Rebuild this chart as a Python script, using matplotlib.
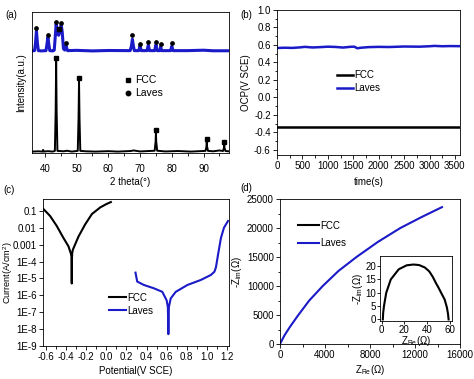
import matplotlib
matplotlib.use("Agg")
import matplotlib.pyplot as plt
from matplotlib.lines import Line2D
from matplotlib.ticker import MultipleLocator, FixedLocator, NullLocator

plt.rcParams['font.family'] = ['Liberation Sans', 'DejaVu Sans']
plt.rcParams['mathtext.fontset'] = 'custom'
plt.rcParams['mathtext.rm'] = 'Liberation Sans'
plt.rcParams['mathtext.it'] = 'Liberation Sans'
plt.rcParams['axes.linewidth'] = 0.6

BLUE = '#1a1ac8'
FS = 7

# ---------------- (a) XRD data ----------------
fcc_xrd_x = [36, 38, 39.3, 39.5, 39.7, 41, 42.5, 43.2, 43.45, 43.6, 43.75, 44.0, 46, 47, 48.5,
             50.4, 50.65, 50.8, 50.95, 51.2, 53, 56, 60, 63, 67, 68, 70, 74.6, 74.9, 75.0, 75.1, 75.4,
             78, 82, 86, 90.6, 90.9, 91.0, 91.1, 91.4, 93, 95, 96.1, 96.4, 96.5, 96.6, 96.9, 98]
fcc_xrd_y = [1.0, 1.2, 1.0, 2.2, 1.0, 1.3, 1.0, 1.5, 30, 65, 30, 1.5, 1.2, 1.6, 1.0,
             1.5, 25, 51, 25, 1.5, 1.2, 1.0, 1.3, 1.0, 1.4, 1.8, 1.1, 1.6, 8, 14, 8, 1.6,
             1.1, 1.4, 1.0, 1.5, 4.5, 8, 4.5, 1.5, 1.2, 1.8, 1.4, 3.5, 5.7, 3.5, 1.4, 1.2]
fcc_peak_x = [43.6, 50.8, 75.0, 91.0, 96.5]
fcc_peak_y = [67.5, 53.0, 16.5, 10.0, 7.6]

laves_xrd_x = [36, 36.8, 37.1, 37.4, 37.7, 38.0, 39, 40.4, 40.7, 41.0, 41.3, 41.6, 42.6, 43.0,
               43.3, 43.6, 43.9, 44.2, 44.4, 44.6, 44.9, 45.2, 45.5, 45.9, 46.3, 46.5, 46.7, 46.9,
               47.2, 50, 55, 60, 66.9, 67.3, 67.6, 67.9, 68.2, 69.6, 70.0, 70.4, 72.2, 72.6, 73.0,
               74.6, 75.0, 75.4, 76.2, 76.5, 76.8, 78, 79.6, 80.0, 80.4, 85, 90, 93, 98]
laves_xrd_y = [72.4, 72.6, 78, 86.6, 78, 72.6, 72.4, 72.6, 77, 82, 77, 72.6, 72.4, 73,
               82, 91.4, 88, 84, 83.5, 85, 88, 90.7, 86, 74, 73, 74.5, 76, 74.5,
               72.6, 72.8, 72.4, 72.7, 72.6, 76, 80.7, 76, 72.6, 72.6, 76, 72.6, 72.6, 76.5, 72.6,
               72.6, 76.8, 72.6, 72.6, 75.5, 72.6, 72.6, 72.6, 75.7, 72.6, 72.6, 72.9, 72.5, 72.5]
laves_peak_x = [37.4, 41.0, 43.6, 45.2, 46.7, 67.6, 70.0, 72.6, 75.0, 76.5, 80.0]
laves_peak_y = [88.6, 83.6, 93.0, 92.4, 78.0, 83.6, 77.4, 78.4, 79.0, 77.2, 78.2]
laves_fcc_peak_x = [44.4]
laves_fcc_peak_y = [88.0]

# ---------------- (b) OCP data ----------------
ocp_fcc_t = [0, 600, 1200, 1800, 2400, 3000, 3600]
ocp_fcc_v = [-0.345, -0.345, -0.345, -0.345, -0.345, -0.345, -0.345]
ocp_laves_t = [0, 150, 300, 450, 550, 700, 850, 1000, 1150, 1300, 1450, 1520, 1580, 1650,
               1800, 2000, 2200, 2500, 2800, 3000, 3100, 3250, 3400, 3600]
ocp_laves_v = [0.565, 0.568, 0.566, 0.572, 0.578, 0.571, 0.575, 0.580, 0.577, 0.570, 0.579,
               0.580, 0.562, 0.568, 0.575, 0.578, 0.576, 0.582, 0.580, 0.585, 0.589, 0.585,
               0.587, 0.586]

# ---------------- (c) polarization data ----------------
pol_fcc_e = [-0.637, -0.56, -0.493, -0.427, -0.377, -0.353, -0.347, -0.345, -0.344, -0.343,
             -0.340, -0.333, -0.277, -0.21, -0.143, -0.06, 0.0, 0.045]
pol_fcc_i = [0.15, 0.05, 0.0126, 0.0025, 0.0008, 0.0003, 0.0002, 1e-4, 5e-6, 1e-4,
             0.0003, 0.0005, 0.003, 0.016, 0.065, 0.16, 0.25, 0.33]
pol_laves_e = [0.29, 0.307, 0.373, 0.473, 0.557, 0.60, 0.612, 0.617, 0.622, 0.64, 0.69,
               0.807, 0.94, 1.04, 1.075, 1.09, 1.113, 1.14, 1.17, 1.21]
pol_laves_i = [2.2e-5, 6.5e-6, 4.1e-6, 2.6e-6, 1.6e-6, 5e-7, 2e-7, 5e-9, 2e-7, 6.5e-7, 1.6e-6,
               4.1e-6, 8.1e-6, 1.6e-5, 2.5e-5, 4.5e-5, 3e-4, 2.5e-3, 1e-2, 2.5e-2]

# ---------------- (d) EIS data ----------------
eis_laves_re = [0, 400, 900, 1630, 2600, 3800, 5200, 6800, 8700, 10700, 12600, 14400]
eis_laves_im = [0, 1500, 3000, 5000, 7500, 10000, 12600, 15000, 17600, 20000, 21900, 23600]
eis_fcc_re = [1.0, 1.3, 2.0, 4.0, 8.0, 15.0, 22.0, 28.0, 33.0, 38.0, 42.0, 45.0, 48.0, 50.0,
              53.0, 55.5, 57.5, 58.5, 59.0]
eis_fcc_im = [0.0, 2.5, 5.0, 10.0, 15.0, 18.8, 20.3, 20.6, 20.4, 19.5, 18.0, 16.0, 13.5, 12.0,
              9.5, 7.5, 4.5, 2.0, 0.0]

W, H = 474, 379
fig = plt.figure(figsize=(W / 100, H / 100), dpi=100)

def axes_px(l, t, r, b):
    return fig.add_axes([l / W, (H - b) / H, (r - l) / W, (b - t) / H])

def style(ax):
    ax.tick_params(which='both', direction='out', labelsize=FS, width=0.6, pad=1.5,
                   top=False, right=False)
    ax.tick_params(which='major', length=3)
    ax.tick_params(which='minor', length=1.8)

# (a)
axa = axes_px(32, 12, 229, 153)
axa.plot(fcc_xrd_x, fcc_xrd_y, color='black', lw=1.4)
axa.plot(laves_xrd_x, laves_xrd_y, color=BLUE, lw=2.2)
axa.plot(fcc_peak_x, fcc_peak_y, 's', color='black', ms=2.6)
axa.plot(laves_peak_x, laves_peak_y, 'o', color='black', ms=2.4)
axa.plot(laves_fcc_peak_x, laves_fcc_peak_y, 's', color='black', ms=2.4)
axa.set_xlim(36, 98)
axa.set_ylim(0, 100)
axa.set_yticks([])
axa.xaxis.set_major_locator(MultipleLocator(10))
axa.xaxis.set_minor_locator(MultipleLocator(5))
style(axa)
axa.tick_params(axis='x', which='both', pad=5)
axa.set_xlabel('2 theta(°)', fontsize=FS, labelpad=2)
axa.set_ylabel('Intensity(a.u.)', fontsize=FS, labelpad=4)
hA = [Line2D([], [], ls='none', marker='s', color='black', ms=3.2),
      Line2D([], [], ls='none', marker='o', color='black', ms=3.2)]
axa.legend(hA, ['FCC', 'Laves'], loc='center left', bbox_to_anchor=(0.43, 0.47),
           frameon=False, fontsize=7.5, handlelength=0.8, handletextpad=0.3,
           labelspacing=0.3, borderpad=0.2)
fig.text(5 / W, 1 - 15 / H, '(a)', fontsize=FS, va='center')

# (b)
axb = axes_px(277, 10, 460, 155)
axb.plot(ocp_fcc_t, ocp_fcc_v, color='black', lw=1.8, label='FCC')
axb.plot(ocp_laves_t, ocp_laves_v, color=BLUE, lw=1.8, label='Laves')
axb.set_xlim(0, 3600)
axb.set_ylim(-0.66, 1.0)
axb.xaxis.set_major_locator(MultipleLocator(500))
axb.xaxis.set_minor_locator(MultipleLocator(250))
axb.yaxis.set_major_locator(FixedLocator([-0.6, -0.4, -0.2, 0.0, 0.2, 0.4, 0.6, 0.8, 1.0]))
axb.yaxis.set_minor_locator(MultipleLocator(0.1))
axb.set_yticklabels(['-0.6', '-0.4', '-0.2', '0.0', '0.2', '0.4', '0.6', '0.8', '1.0'])
style(axb)
axb.set_xlabel('time(s)', fontsize=FS, labelpad=4)
axb.set_ylabel('OCP(V SCE)', fontsize=FS, labelpad=2)
axb.legend(loc='center left', bbox_to_anchor=(0.29, 0.505), frameon=False, fontsize=FS,
           handlelength=1.7, handletextpad=0.1, labelspacing=0.3, borderpad=0.2)
fig.text(240 / W, 1 - 15 / H, '(b)', fontsize=FS, va='center')

# (c)
axc = axes_px(43, 199, 229, 346)
axc.plot(pol_fcc_e, pol_fcc_i, color='black', lw=1.5, label='FCC')
axc.plot(pol_laves_e, pol_laves_i, color=BLUE, lw=1.5, label='Laves')
axc.set_yscale('log')
axc.set_xlim(-0.63, 1.22)
axc.set_ylim(1e-9, 0.5)
yt = [1e-9, 1e-8, 1e-7, 1e-6, 1e-5, 1e-4, 1e-3, 1e-2, 1e-1]
axc.yaxis.set_major_locator(FixedLocator(yt))
axc.yaxis.set_minor_locator(NullLocator())
axc.set_yticklabels(['1E-9', '1E-8', '1E-7', '1E-6', '1E-5', '1E-4', '0.001', '0.01', '0.1'])
xt = [-0.6, -0.4, -0.2, 0.0, 0.2, 0.4, 0.6, 0.8, 1.0, 1.2]
axc.xaxis.set_major_locator(FixedLocator(xt))
axc.xaxis.set_minor_locator(MultipleLocator(0.1))
axc.set_xticklabels(['-0.6', '-0.4', '-0.2', '0.0', '0.2', '0.4', '0.6', '0.8', '1.0', '1.2'])
style(axc)
axc.set_xlabel('Potential(V SCE)', fontsize=FS, labelpad=3)
axc.set_ylabel('Current(A/cm$^2$)', fontsize=6.6)
axc.yaxis.set_label_coords(-0.152, 0.5)
axc.legend(loc='center left', bbox_to_anchor=(0.32, 0.285), frameon=False, fontsize=FS,
           handlelength=1.7, handletextpad=0.1, labelspacing=0.3, borderpad=0.2)
fig.text(3 / W, 1 - 190 / H, '(c)', fontsize=FS, va='center')

# (d)
axd = axes_px(280, 199, 460, 344)
axd.plot([], [], color='black', lw=1.5, label='FCC')
axd.plot(eis_laves_re, eis_laves_im, color=BLUE, lw=1.5, label='Laves')
axd.set_xlim(0, 16000)
axd.set_ylim(0, 25000)
axd.xaxis.set_major_locator(MultipleLocator(4000))
axd.xaxis.set_minor_locator(MultipleLocator(2000))
axd.yaxis.set_major_locator(MultipleLocator(5000))
axd.yaxis.set_minor_locator(MultipleLocator(2500))
style(axd)
axd.set_xlabel('Z$_{\\mathrm{Re}}$(Ω)', fontsize=FS, labelpad=2)
axd.set_ylabel('-Z$_{\\mathrm{im}}$(Ω)', fontsize=FS, labelpad=2)
axd.legend(loc='center left', bbox_to_anchor=(0.06, 0.755), frameon=False, fontsize=FS,
           handlelength=2.2, handletextpad=0.1, labelspacing=0.8, borderpad=0.2)
fig.text(240 / W, 1 - 188 / H, '(d)', fontsize=FS, va='center')

axi = axes_px(380, 256, 452, 321)
axi.plot(eis_fcc_re, eis_fcc_im, color='black', lw=1.5)
axi.set_xlim(-1.5, 62)
axi.set_ylim(-0.6, 23.8)
axi.xaxis.set_major_locator(MultipleLocator(20))
axi.yaxis.set_major_locator(MultipleLocator(5))
axi.tick_params(direction='out', labelsize=FS, width=0.6, length=2, pad=1)
axi.set_xlabel('Z$_{\\mathrm{Re}}$(Ω)', fontsize=FS, labelpad=-1)
axi.set_ylabel('-Z$_{\\mathrm{im}}$(Ω)', fontsize=FS, labelpad=0)

fig.savefig('out.png', dpi=100)
